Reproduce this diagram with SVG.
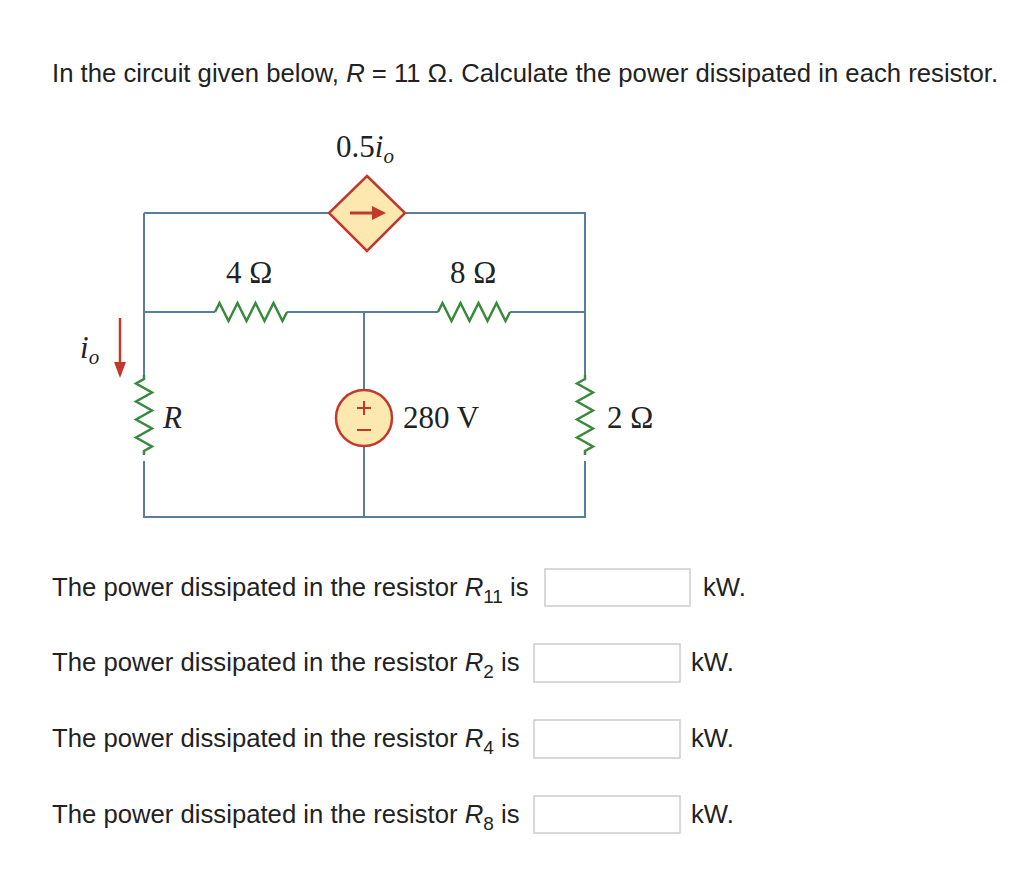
<svg xmlns="http://www.w3.org/2000/svg" width="1024" height="875" viewBox="0 0 1024 875">
<style>
.w{stroke:#5a7d9a;stroke-width:2;fill:none}
.r{stroke:#3a8a3e;stroke-width:2.5;fill:none;stroke-linejoin:miter}
.t{font-family:"Liberation Sans",Arial,sans-serif;font-size:25.7px;fill:#222}
.c{font-family:"Liberation Serif","Times New Roman",serif;font-size:31px;fill:#222}
.box{fill:#fff;stroke:#ccc;stroke-width:1.5}
</style>
<rect width="1024" height="875" fill="#fff"/>
<text class="t" x="52" y="82">In the circuit given below, <tspan font-style="italic">R</tspan> = 11 Ω. Calculate the power dissipated in each resistor.</text>
<g id="wires">
<path class="w" d="M144 213H329M405 213H585V375M585 461V517H144V461M144 375V213M144 312H215M287 312H438M510 312H585M364 312V390M364 446V517"/>
<path class="r" d="M215 312l4.5 -9l9 18l9 -18l9 18l9 -18l9 18l9 -18l9 18l4.5 -9"/>
<path class="r" d="M438 312l4.5 -9l9 18l9 -18l9 18l9 -18l9 18l9 -18l9 18l4.5 -9"/>
<path class="r" d="M144 375v4l-8 4.5l16 9l-16 9l16 9l-16 9l16 9l-16 9l16 9l-8 4.5v4"/>
<path class="r" d="M585 375v4l-8 4.5l16 9l-16 9l16 9l-16 9l16 9l-16 9l16 9l-8 4.5v4"/>
<path d="M120 318V368" stroke="#c0392b" stroke-width="2.5"/>
<path d="M114 362L120 378L126 362Z" fill="#c0392b"/>
</g>
<g id="csrc">
<path d="M367 176L405 213L367 251L329 213Z" fill="#fde9b0" stroke="#c0392b" stroke-width="2.5"/>
<path d="M350 213H376" stroke="#c0392b" stroke-width="3"/>
<path d="M372 206L386 213L372 220Z" fill="#c0392b"/>
<text class="c" x="336" y="157">0.5<tspan font-style="italic">i</tspan><tspan font-style="italic" font-size="21" dy="6">o</tspan></text>
</g>
<g id="vsrc">
<circle cx="364" cy="418" r="28" fill="#fde9b0" stroke="#c0392b" stroke-width="2.5"/>
<path d="M357 408H371M364 401V415M357 430H371" stroke="#c0392b" stroke-width="2"/>
<text class="c" x="403" y="428">280 V</text>
</g>
<g id="labels">
<text class="c" x="226" y="283">4 Ω</text>
<text class="c" x="450" y="283">8 Ω</text>
<text class="c" x="163" y="428" font-style="italic">R</text>
<text class="c" x="607" y="428">2 Ω</text>
<text class="c" x="80" y="358" font-style="italic">i<tspan font-size="21" dy="6">o</tspan></text>
</g>
<g id="q1"><text class="t" x="52" y="596">The power dissipated in the resistor <tspan font-style="italic">R</tspan><tspan font-size="19" dy="7">11</tspan><tspan dy="-7"> is</tspan></text>
<rect class="box" x="545" y="569" width="145" height="37"/><text class="t" x="703" y="596">kW.</text></g>
<g id="q2"><text class="t" x="52" y="671">The power dissipated in the resistor <tspan font-style="italic">R</tspan><tspan font-size="19" dy="7">2</tspan><tspan dy="-7"> is</tspan></text>
<rect class="box" x="534" y="644" width="146" height="38"/><text class="t" x="691" y="671">kW.</text></g>
<g id="q3"><text class="t" x="52" y="747">The power dissipated in the resistor <tspan font-style="italic">R</tspan><tspan font-size="19" dy="7">4</tspan><tspan dy="-7"> is</tspan></text>
<rect class="box" x="534" y="720" width="146" height="38"/><text class="t" x="691" y="747">kW.</text></g>
<g id="q4"><text class="t" x="52" y="823">The power dissipated in the resistor <tspan font-style="italic">R</tspan><tspan font-size="19" dy="7">8</tspan><tspan dy="-7"> is</tspan></text>
<rect class="box" x="534" y="796" width="146" height="37"/><text class="t" x="691" y="823">kW.</text></g>
</svg>
